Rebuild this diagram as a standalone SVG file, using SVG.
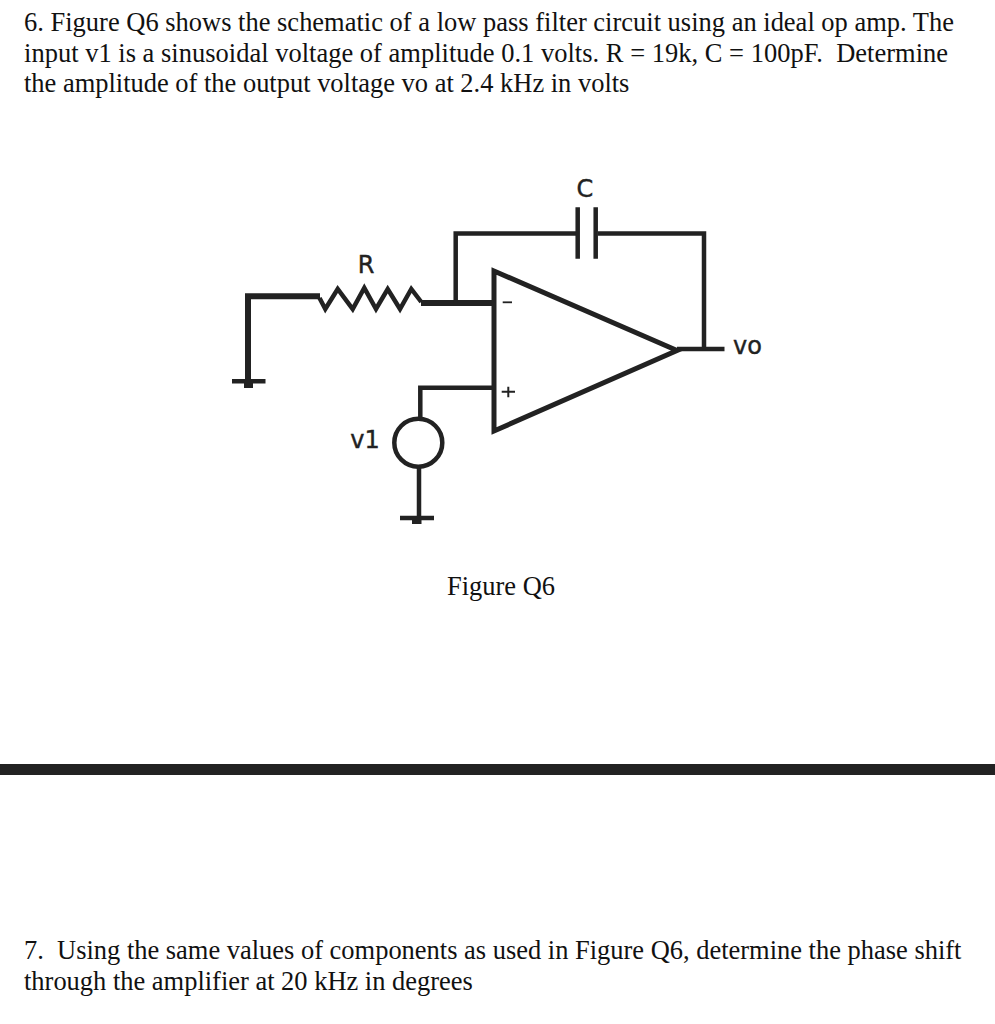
<svg xmlns="http://www.w3.org/2000/svg" width="995" height="1024" viewBox="0 0 995 1024">
<style>
.t{font-family:"Liberation Serif",serif;font-size:26.46px;fill:#111;white-space:pre}
.l{font-family:"DejaVu Sans",sans-serif;font-size:24px;fill:#222;stroke:#222;stroke-width:.4}
.w{fill:none;stroke:#222;stroke-width:4.500}
.k{fill:none;stroke:#222;stroke-width:6}
.f{fill:#222}
</style>
<rect width="995" height="1024" fill="#fff"/>
<g id="question6">
<text class="t" x="24" y="31" textLength="930">6. Figure Q6 shows the schematic of a low pass filter circuit using an ideal op amp. The</text>
<text class="t" x="24" y="62" textLength="924">input v1 is a sinusoidal voltage of amplitude 0.1 volts. R = 19k, C = 100pF.  Determine</text>
<text class="t" x="24" y="92">the amplitude of the output voltage vo at 2.4 kHz in volts</text>
</g>
<g id="connectors">
<path class="k" d="M248 381V296.300H320"/>
<path class="w" d="M319.500 298L325.300 309L337.700 289L352.700 309L364.300 288L376 309L387.700 289L400 309L411.300 289L421.300 302"/>
<path class="k" d="M421 303H493"/>
<path class="w" d="M455.700 303V233.500H578M598 233.500H704V349M677 349H724.500"/>
<path class="w" d="M493 387.700H420.300V417M419 467V518"/>
</g>
<g id="opamp"><path class="k" style="stroke-width:5" d="M494 271L677 350.500L494 431Z"/>
<path d="M502.700 302.300H512" stroke="#222" stroke-width="1.800"/><path d="M501.700 391.700H515M508.300 386.700V397.300" stroke="#222" stroke-width="2"/></g>
<g id="R"><text class="l" x="366" y="273" text-anchor="middle">R</text></g>
<g id="C"><path class="w" d="M577.700 207.300V258.700M595.700 207.300V258.700"/><text class="l" x="585" y="196.500" text-anchor="middle">C</text></g>
<g id="vo"><text class="l" x="747.500" y="354" text-anchor="middle">vo</text></g>
<g id="v1"><circle class="w" cx="418.300" cy="442.700" r="24"/><text class="l" x="365" y="448" text-anchor="middle">v1</text></g>
<g id="gnd1"><path class="w" d="M232 381.300H265.500"/><rect class="f" x="244" y="381" width="9" height="7"/></g>
<g id="gnd2"><path class="w" d="M400 518H434"/><rect class="f" x="412" y="518" width="9.500" height="6"/></g>
<text class="t" x="447" y="595">Figure Q6</text>
<rect id="divider" x="0" y="764" width="995" height="11" fill="#222"/>
<g id="question7">
<text class="t" x="24" y="959">7.  Using the same values of components as used in Figure Q6, determine the phase shift</text>
<text class="t" x="24" y="990">through the amplifier at 20 kHz in degrees</text>
</g>
</svg>
